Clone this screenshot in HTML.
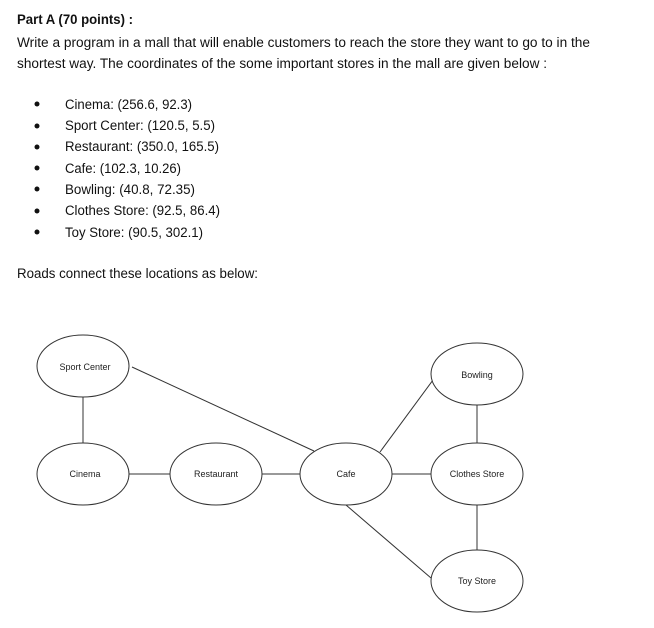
<!DOCTYPE html>
<html><head><meta charset="utf-8"><style>
html,body{margin:0;padding:0;background:#fff;width:654px;height:628px;overflow:hidden}
</style></head><body>
<svg width="654" height="628" viewBox="0 0 654 628" xmlns="http://www.w3.org/2000/svg" font-family="Liberation Sans, sans-serif">
<g fill="#111" font-size="13.5">
<text x="17" y="24" font-weight="bold" textLength="116" lengthAdjust="spacingAndGlyphs">Part A (70 points) :</text>
<text x="17" y="47" textLength="573" lengthAdjust="spacingAndGlyphs">Write a program in a mall that will enable customers to reach the store they want to go to in the</text>
<text x="17" y="68" textLength="530" lengthAdjust="spacingAndGlyphs">shortest way. The coordinates of the some important stores in the mall are given below :</text>
<g>
<circle cx="37" cy="104" r="2.5"/><text x="65" y="109" textLength="127" lengthAdjust="spacingAndGlyphs">Cinema: (256.6, 92.3)</text>
<circle cx="37" cy="126" r="2.5"/><text x="65" y="130" textLength="150" lengthAdjust="spacingAndGlyphs">Sport Center: (120.5, 5.5)</text>
<circle cx="37" cy="147" r="2.5"/><text x="65" y="151" textLength="154" lengthAdjust="spacingAndGlyphs">Restaurant: (350.0, 165.5)</text>
<circle cx="37" cy="168" r="2.5"/><text x="65" y="173" textLength="116" lengthAdjust="spacingAndGlyphs">Cafe: (102.3, 10.26)</text>
<circle cx="37" cy="189" r="2.5"/><text x="65" y="194" textLength="130" lengthAdjust="spacingAndGlyphs">Bowling: (40.8, 72.35)</text>
<circle cx="37" cy="211" r="2.5"/><text x="65" y="215" textLength="155" lengthAdjust="spacingAndGlyphs">Clothes Store: (92.5, 86.4)</text>
<circle cx="37" cy="232" r="2.5"/><text x="65" y="237" textLength="138" lengthAdjust="spacingAndGlyphs">Toy Store: (90.5, 302.1)</text>
</g>
<text x="17" y="278" textLength="241" lengthAdjust="spacingAndGlyphs">Roads connect these locations as below:</text>
</g>
<g stroke="#333" stroke-width="1" fill="none">
<line x1="83" y1="397" x2="83" y2="443"/>
<line x1="129" y1="474" x2="170" y2="474"/>
<line x1="262" y1="474" x2="300" y2="474"/>
<line x1="392" y1="474" x2="431" y2="474"/>
<line x1="477" y1="405" x2="477" y2="443"/>
<line x1="477" y1="505" x2="477" y2="550"/>
<line x1="132" y1="367" x2="314" y2="451"/>
<line x1="380" y1="452" x2="433" y2="380"/>
<line x1="346" y1="505" x2="431" y2="578"/>
<g fill="#fff">
<ellipse cx="83" cy="366" rx="46" ry="31"/>
<ellipse cx="83" cy="474" rx="46" ry="31"/>
<ellipse cx="216" cy="474" rx="46" ry="31"/>
<ellipse cx="346" cy="474" rx="46" ry="31"/>
<ellipse cx="477" cy="374" rx="46" ry="31"/>
<ellipse cx="477" cy="474" rx="46" ry="31"/>
<ellipse cx="477" cy="581" rx="46" ry="31"/>
</g>
</g>
<g font-size="9" fill="#222" text-anchor="middle">
<text x="85" y="370">Sport Center</text>
<text x="85" y="477">Cinema</text>
<text x="216" y="477">Restaurant</text>
<text x="346" y="477">Cafe</text>
<text x="477" y="378">Bowling</text>
<text x="477" y="477">Clothes Store</text>
<text x="477" y="584">Toy Store</text>
</g>
</svg>
</body></html>
